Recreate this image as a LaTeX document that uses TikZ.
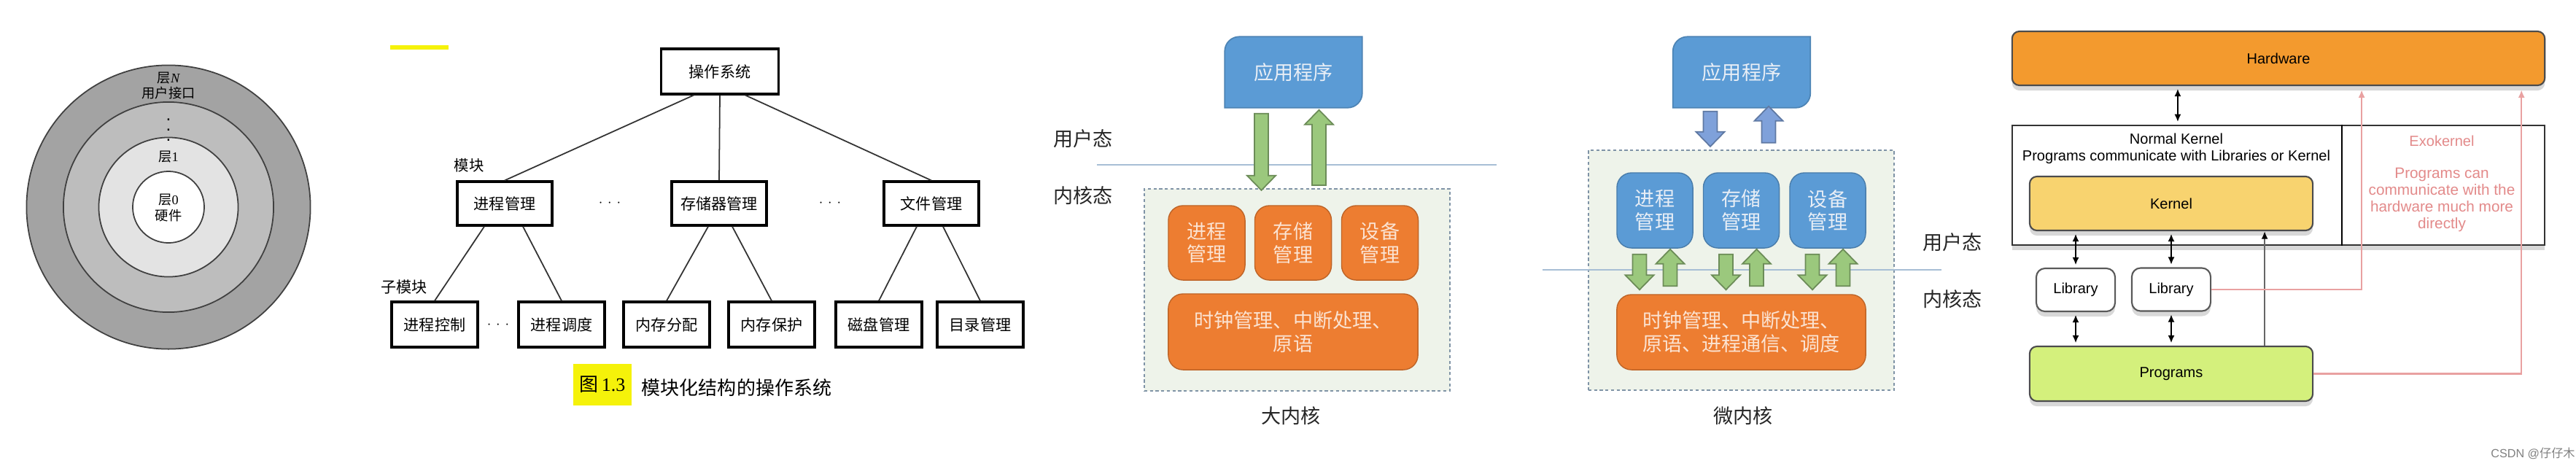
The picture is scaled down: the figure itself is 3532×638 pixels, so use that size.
\documentclass[tikz,border=0pt]{standalone}
\usepackage{fontspec}
\setmainfont{Liberation Sans}
\newfontfamily\cjk{Noto Sans CJK SC}
\newfontfamily\serifnum{Liberation Serif}
\usetikzlibrary{calc,backgrounds,shadows,arrows.meta}

\definecolor{ringA}{HTML}{A3A3A3}
\definecolor{ringB}{HTML}{BDBDBD}
\definecolor{ringC}{HTML}{E3E3E3}
\definecolor{hlyellow}{HTML}{F5F20A}
\definecolor{appblue}{HTML}{5B9BD5}
\definecolor{apptext}{HTML}{E8EEF6}
\definecolor{korange}{HTML}{ED7D31}
\definecolor{kortext}{HTML}{FBE3D2}
\definecolor{kbg}{HTML}{EEF3EA}
\definecolor{kdash}{HTML}{7F93A6}
\definecolor{garrow}{HTML}{9BC87D}
\definecolor{barrow}{HTML}{7FA1DA}
\definecolor{modeline}{HTML}{A7BED5}
\definecolor{hworange}{HTML}{F39A2E}
\definecolor{kyellow}{HTML}{F8D36F}
\definecolor{pgreen}{HTML}{D4F07C}
\definecolor{exored}{HTML}{E38A8A}

\tikzset{
  ring/.style={draw=black!75, line width=.5pt},
  cntext/.style={font=\cjk\fontsize{5.2}{6.2}\selectfont, align=center, inner sep=0pt},
  modbox/.style={draw, line width=.9pt, inner sep=1pt, minimum width=1.3cm,
    minimum height=.6cm, font=\cjk\fontsize{6}{7}\selectfont},
  subbox/.style={modbox, minimum width=1.18cm, minimum height=.62cm},
  treeline/.style={line width=.5pt, black!80},
  dotstext/.style={font=\fontsize{4.6}{5}\selectfont},
  bigtext/.style={font=\cjk\fontsize{7.7}{9}\selectfont, align=center},
  appbox/.style={bigtext, text=apptext, minimum width=1.87cm, minimum height=.96cm},
  kernbg/.style={draw=kdash, dash pattern=on 1.2pt off 1pt, fill=kbg, line width=.6pt},
  orgbox/.style={bigtext, fill=korange, draw=korange!80!black, rounded corners=.2cm,
    text=kortext, minimum width=1.05cm, minimum height=1.02cm, inner sep=1pt},
  bluebox/.style={orgbox, fill=appblue, draw=appblue!80!black, text=apptext},
  gblock/.style={fill=garrow, draw=garrow!70!black, line width=.5pt},
  bblock/.style={fill=barrow, draw=barrow!75!black, line width=.5pt},
  mline/.style={modeline, line width=.8pt},
  entext/.style={font=\fontsize{5.7}{6.5}\selectfont, align=center},
  softshadow/.style={drop shadow={opacity=.3, shadow xshift=0pt, shadow yshift=-2pt}},
  hwbox/.style={entext, fill=hworange, draw=black!70, line width=.6pt,
    rounded corners=.1cm, softshadow},
  kbox/.style={entext, fill=kyellow, draw=black!70, line width=.6pt,
    rounded corners=.1cm, softshadow, minimum width=3.88cm, minimum height=.74cm},
  libbox/.style={entext, fill=white, draw=black!65, line width=.6pt,
    rounded corners=.12cm, softshadow, minimum width=1.08cm, minimum height=.59cm},
  progbox/.style={entext, fill=pgreen, draw=black!70, line width=.6pt,
    rounded corners=.1cm, softshadow, minimum width=3.88cm, minimum height=.75cm},
  dblarr/.style={{Latex[length=3pt,width=2.6pt]}-{Latex[length=3pt,width=2.6pt]},
    line width=.6pt, shorten <=1pt, shorten >=1pt},
  exoarr/.style={exored!80, line width=.6pt, -{Latex[length=3pt,width=2.6pt]}, shorten >=1.5pt}
}

% blue box with two round corners, behind its text
\newcommand\appshape[1]{%
  \begin{scope}[on background layer]
    \filldraw[fill=appblue, draw=appblue!85!black, line width=.5pt]
      (#1.north east) -- ([yshift=.2cm]#1.south east)
      arc[start angle=0, end angle=-90, radius=.2cm] -- (#1.south west)
      -- ([yshift=-.2cm]#1.north west)
      arc[start angle=180, end angle=90, radius=.2cm] -- cycle;
  \end{scope}}

% fat arrow from tail to tip
\newcommand\blockarr[3]{%
  \filldraw[#1] let \p1=(#2), \p2=(#3), \p3=($(#3)!.2cm!(#2)$) in
    (\x2-.095cm,\y1) -- (\x2-.095cm,\y3) -- (\x2-.195cm,\y3) -- (\x2,\y2)
    -- (\x2+.195cm,\y3) -- (\x2+.095cm,\y3) -- (\x2+.095cm,\y1) -- cycle;}

\begin{document}
\begin{tikzpicture}[x=0.01cm,y=-0.01cm]
  \begin{scope}[on background layer]
    \fill[white] (0,0) rectangle (3532,638);
  \end{scope}
  \useasboundingbox (0,0) rectangle (3532,638);

  % layered system
  \filldraw[ring, fill=ringA] (231,284) circle[radius=1.945cm];
  \filldraw[ring, fill=ringB] (231,284) circle[radius=1.44cm];
  \filldraw[ring, fill=ringC] (231,284) circle[radius=.955cm];
  \filldraw[ring, fill=white] (231,284) circle[radius=.49cm];
  \node[cntext] (layN) at (231,107) {层{\serifnum\itshape N}};
  \node[cntext] (ui) at (231,128) {用户接口};
  \node[font=\fontsize{7}{8}\selectfont] (vd) at (231,168) {$\vdots$};
  \node[cntext] (lay1) at (231,215) {层{\serifnum 1}};
  \node[cntext] (lay0) at (231,274) {层{\serifnum 0}};
  \node[cntext] (hwc) at (231,296) {硬件};

  % modular structure
  \fill[hlyellow] (535,62) rectangle (615,68);
  \node[modbox, minimum width=1.61cm, minimum height=.62cm] (os) at (987,98) {操作系统};
  \node[modbox] (pm) at (692,279) {进程管理};
  \node[modbox] (sm) at (986,279) {存储器管理};
  \node[modbox] (fm) at (1277,279) {文件管理};
  \node[subbox] (pc) at (596,445) {进程控制};
  \node[subbox] (ps) at (770,445) {进程调度};
  \node[subbox] (ma) at (914,445) {内存分配};
  \node[subbox] (mp) at (1058,445) {内存保护};
  \node[subbox] (dk) at (1205,445) {磁盘管理};
  \node[subbox] (dr) at (1344,445) {目录管理};
  \node[font=\cjk\fontsize{5.8}{7}\selectfont] (modl) at (643,227) {模块};
  \node[font=\cjk\fontsize{6}{7}\selectfont] (subl) at (554,393) {子模块};
  \node[dotstext] (d1) at (836,278) {$\cdots$};
  \node[dotstext] (d2) at (1138,278) {$\cdots$};
  \node[dotstext] (d3) at (683,445) {$\cdots$};
  \draw[treeline] ([xshift=-.36cm]os.south) -- (pm.north);
  \draw[treeline] (os.south) -- (sm.north);
  \draw[treeline] ([xshift=.35cm]os.south) -- (fm.north);
  \draw[treeline] ([xshift=-.28cm]pm.south) -- (pc.north);
  \draw[treeline] ([xshift=.25cm]pm.south) -- (ps.north);
  \draw[treeline] ([xshift=-.15cm]sm.south) -- (ma.north);
  \draw[treeline] ([xshift=.18cm]sm.south) -- (mp.north);
  \draw[treeline] ([xshift=-.2cm]fm.south) -- (dk.north);
  \draw[treeline] ([xshift=.16cm]fm.south) -- (dr.north);
  \node[fill=hlyellow, inner sep=0pt, minimum width=.8cm, minimum height=.57cm,
    font=\cjk\fontsize{7.4}{8}\selectfont] (fig) at (826,527) {图\,{\serifnum 1.3}};
  \node[font=\cjk\fontsize{7.4}{8}\selectfont] (cap) at (1010,532) {模块化结构的操作系统};

  % monolithic kernel
  \node[kernbg, minimum width=4.19cm, minimum height=2.77cm] (kb3) at (1778.5,397.5) {};
  \node[appbox] (app3) at (1773.5,99) {应用程序};
  \appshape{app3}
  \node[orgbox] (pm3) at (1654.5,333) {进程\\管理};
  \node[orgbox] (sm3) at (1773,333) {存储\\管理};
  \node[orgbox] (dv3) at (1892,333) {设备\\管理};
  \node[orgbox, minimum width=3.42cm, minimum height=1.04cm] (ck3) at (1773,455)
    {时钟管理、中断处理、\\原语};
  \node[bigtext, text=black!85] (us3) at (1485,190) {用户态};
  \node[bigtext, text=black!85] (ks3) at (1485,268) {内核态};
  \node[bigtext, text=black!85] (mono) at (1770,570) {大内核};
  \draw[mline] (1504,226) -- (2052,226);
  \blockarr{gblock}{$(app3.south)+(-44,8)$}{$(app3.south |- kb3.north)+(-44,3)$}
  \blockarr{gblock}{$(app3.south |- kb3.north)+(35,-4)$}{$(app3.south)+(35,3)$}

  % microkernel
  \node[kernbg, minimum width=4.19cm, minimum height=3.29cm] (kb4) at (2387.5,370.5) {};
  \node[appbox] (app4) at (2388,99) {应用程序};
  \appshape{app4}
  \node[bluebox, minimum width=1.04cm, minimum height=1.03cm] (pm4) at (2269,288.5) {进程\\管理};
  \node[bluebox, minimum width=1.04cm, minimum height=1.03cm] (sm4) at (2387.5,288.5) {存储\\管理};
  \node[bluebox, minimum width=1.04cm, minimum height=1.03cm] (dv4) at (2506,288.5) {设备\\管理};
  \node[orgbox, minimum width=3.41cm, minimum height=1.03cm] (ck4) at (2387.5,455.5)
    {时钟管理、中断处理、\\原语、进程通信、调度};
  \node[bigtext, text=black!85] (us4) at (2677,332) {用户态};
  \node[bigtext, text=black!85] (ks4) at (2677,410) {内核态};
  \node[bigtext, text=black!85] (micro) at (2390,570) {微内核};
  \draw[mline] (2115,370) -- (2662,370);
  \blockarr{bblock}{$(app4.south)+(-43,5)$}{$(app4.south |- kb4.north)+(-43,-4)$}
  \blockarr{bblock}{$(app4.south |- kb4.north)+(37,-9)$}{$(app4.south)+(37,-2)$}
  \foreach \b in {pm4,sm4,dv4}{
    \blockarr{gblock}{$(\b.south)+(-21,8)$}{$(\b.south |- ck4.north)+(-21,-6)$}
    \blockarr{gblock}{$(\b.south |- ck4.north)+(21,-11)$}{$(\b.south)+(21,1)$}
  }

  % exokernel
  \node[hwbox, minimum width=7.3cm, minimum height=.74cm] (hw) at (3124,80) {Hardware};
  \node[draw=black!80, line width=.7pt, fill=white, softshadow, minimum width=7.3cm,
    minimum height=1.64cm] (nk) at (3124,254) {};
  \draw[line width=.6pt] ([xshift=.87cm]nk.north) -- ([xshift=.87cm]nk.south);
  \node[entext] (nkt) at (2984,204) {Normal Kernel\\Programs communicate with Libraries or Kernel};
  \node[entext, text=exored] (ekt) at (3348,193) {Exokernel};
  \node[entext, text=exored, font=\fontsize{5.9}{6.5}\selectfont] (ekd) at (3348,274)
    {Programs can\\communicate with the\\hardware much more\\directly};
  \node[kbox] (kern) at (2977,279) {Kernel};
  \node[libbox] (lib1) at (2846,397.5) {Library};
  \node[libbox] (lib2) at (2977,397) {Library};
  \node[progbox] (prog) at (2977,512.5) {Programs};
  \draw[dblarr] ([xshift=-1.38cm]hw.south) -- ([xshift=-1.38cm]nk.north);
  \draw[dblarr] (lib1.north |- kern.south) -- (lib1.north);
  \draw[dblarr] (kern.south) -- (lib2.north);
  \draw[dblarr] (lib1.south) -- (lib1.south |- prog.north);
  \draw[dblarr] (lib2.south) -- (prog.north);
  \draw[black!60, line width=.6pt, -{Latex[length=3pt,width=2.6pt,black]}]
    ([xshift=1.28cm]prog.north) -- ([xshift=1.28cm]kern.south);
  \draw[exoarr] (lib2.east) -| ([xshift=1.14cm]hw.south);
  \draw[exoarr] (prog.east) -| ([xshift=3.33cm]hw.south);
  \node[text=black!50, font=\fontsize{4.6}{5}\selectfont] (wm) at (3473,622) {CSDN @{\cjk 仔仔木}};
\end{tikzpicture}
\end{document}
